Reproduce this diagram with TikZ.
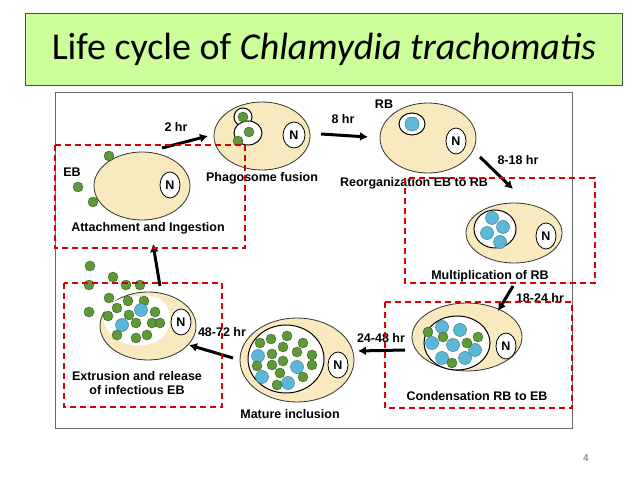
\documentclass[tikz,border=0pt]{standalone}
\usepackage{fontspec}
\setmainfont{Liberation Sans}
\newfontfamily\titlefont{Carlito}
\usetikzlibrary{arrows.meta}
\begin{document}
\begin{tikzpicture}[x=1pt,y=-1pt,
 cell/.style={draw=black!80,fill=cellc,line width=0.8pt},
 nuc/.style={draw=black,fill=white,line width=0.8pt},
 inc/.style={draw=black,fill=white,line width=1pt},
 lab/.style={font=\fontsize{12.5}{14}\selectfont\bfseries,inner sep=0pt},
 arr/.style={line width=3pt,-{Latex[length=8pt,width=9pt]}},
 redbox/.style={draw=red!85!black,line width=2pt,dash pattern=on 6pt off 4pt},
 eb/.style={fill=ebc,draw=ebc!60!black,line width=0.4pt},
 rb/.style={fill=rbc,draw=rbc!60!black,line width=0.4pt}]
\definecolor{cellc}{HTML}{F8E9BE}
\definecolor{ebc}{HTML}{5E9A3A}
\definecolor{rbc}{HTML}{5BB8D6}
\definecolor{titleg}{HTML}{CCFF99}
\useasboundingbox (0,0) rectangle (638,478);
\fill[white] (0,0) rectangle (638,478);
% title
\node[draw=black!70,fill=titleg,line width=0.8pt,minimum width=597pt,minimum height=72pt,anchor=north west,inner sep=0pt] (title) at (25,13) {};
\node[font=\titlefont\fontsize{38}{42}\selectfont] (tt) at (title.center) {Life cycle of \textit{Chlamydia trachomatis}};
\node[draw=black!60,line width=0.8pt,minimum width=517pt,minimum height=336pt,anchor=north west,inner sep=0pt] (frame) at (55,92) {};
% cell 1
\draw[cell] (142,186) ellipse (48 and 34);
\draw[nuc] (170,185) ellipse (10 and 13); \node[lab] (n1) at (170,185) {N};
\foreach \p in {(109,156),(78,187),(93,202)} \draw[eb] \p circle (5);
\node[lab] (eb) at (72,172) {EB};
\node[lab] (l1) at (148,228) {Attachment and Ingestion};
% cell 2
\draw[cell] (262,136) ellipse (48 and 34);
\draw[nuc] (294,135) ellipse (11 and 13); \node[lab] (n2) at (294,135) {N};
\draw[inc] (243,117) circle (9);
\draw[inc] (248,133) ellipse (14 and 12);
\foreach \p in {(243,117),(249,132),(238,141)} \draw[eb] \p circle (5);
\node[lab] (l2) at (262,178) {Phagosome fusion};
% cell 3
\draw[cell] (428,138) ellipse (48 and 35);
\draw[nuc] (456,141) ellipse (10 and 13); \node[lab] (n3) at (456,141) {N};
\draw[inc] (412,124) ellipse (13 and 11);
\draw[rb] (412,124) circle (7);
\node[lab] (rbl) at (384,104) {RB};
\node[lab] (l3) at (414,183) {Reorganization EB to RB};
% cell 4
\draw[cell] (514,233) ellipse (48 and 30);
\draw[nuc] (546,236) ellipse (10 and 13); \node[lab] (n4) at (546,236) {N};
\draw[inc] (495,229) ellipse (21 and 19);
\foreach \p in {(492,218),(503,227),(487,233),(500,242)} \draw[rb] \p circle (6.5);
\node[lab] (l4) at (490,276) {Multiplication of RB};
% cell 5
\draw[cell] (467,337) ellipse (55 and 34);
\draw[nuc] (506,346) ellipse (10 and 13); \node[lab] (n5) at (506,346) {N};
\draw[inc] (457,343) ellipse (33 and 27);
\foreach \p in {(442,327),(460,330),(432,343),(453,345),(475,350),(442,358),(465,358)} \draw[rb] \p circle (6.5);
\foreach \p in {(428,332),(443,337),(478,337),(467,343),(452,363)} \draw[eb] \p circle (5);
\node[lab] (l5) at (477,396) {Condensation RB to EB};
% cell 6
\draw[cell] (297,360) ellipse (57 and 42);
\draw[nuc] (338,365) ellipse (10 and 13); \node[lab] (n6) at (338,365) {N};
\draw[inc] (286,359) ellipse (38 and 34);
\foreach \p in {(258,356),(297,367),(262,377),(288,383)} \draw[rb] \p circle (6.5);
\foreach \p in {(260,343),(271,339),(287,336),(303,343),(283,347),(272,354),(297,352),(312,355),(257,366),(272,365),(283,361),(312,365),(280,373),(303,377),(277,385)} \draw[eb] \p circle (5);
\node[lab] (l6) at (290,414) {Mature inclusion};
% cell 7
\draw[cell] (148,326) ellipse (48 and 34);
\fill[white] (103,318) .. controls (104,300) and (125,295) .. (150,296) .. controls (170,298) and (175,320) .. (165,335) .. controls (150,352) and (110,350) .. (103,318) -- cycle;
\draw[nuc] (181,322) ellipse (10 and 13); \node[lab] (n7) at (181,322) {N};
\foreach \p in {(90,266),(113,277),(126,285),(140,285),(89,285),(109,298),(128,301),(144,301),(89,312),(108,316),(117,308),(129,315),(155,312),(136,323),(152,323),(160,323),(117,335),(136,338),(147,335)} \draw[eb] \p circle (5);
\foreach \p in {(141,310),(122,325)} \draw[rb] \p circle (6.5);
\node[lab,align=center] (l7) at (137,383) {Extrusion and release\\ of infectious EB};
% arrows
\coordinate (a1s) at (162,148); \coordinate (a1e) at (208,136);
\draw[arr] (a1s) -- (a1e); \node[lab] (t1) at (176,127) {2 hr};
\coordinate (a2s) at (321,134); \coordinate (a2e) at (368,137);
\draw[arr] (a2s) -- (a2e); \node[lab] (t2) at (343,119) {8 hr};
\coordinate (a3s) at (480,157); \coordinate (a3e) at (513,189);
\draw[arr] (a3s) -- (a3e); \node[lab] (t3) at (518,160) {8-18 hr};
\coordinate (a4s) at (513,286); \coordinate (a4e) at (498,311);
\draw[arr] (a4s) -- (a4e); \node[lab] (t4) at (540,298) {18-24 hr};
\coordinate (a5s) at (405,350); \coordinate (a5e) at (358,351);
\draw[arr] (a5s) -- (a5e); \node[lab] (t5) at (381,338) {24-48 hr};
\coordinate (a6s) at (233,358); \coordinate (a6e) at (189,345);
\draw[arr] (a6s) -- (a6e); \node[lab] (t6) at (222,332) {48-72 hr};
\coordinate (a7s) at (160,286); \coordinate (a7e) at (153,244);
\draw[arr] (a7s) -- (a7e);
% red boxes
\draw[redbox] (55,145) rectangle (245,248);
\draw[redbox] (405,178) rectangle (595,283);
\draw[redbox] (385,302) rectangle (572,408);
\draw[redbox] (64,283) rectangle (222,407);
\node[font=\fontsize{10}{12}\selectfont,text=black!60] (pg) at (586,458) {4};
\end{tikzpicture}
\end{document}
